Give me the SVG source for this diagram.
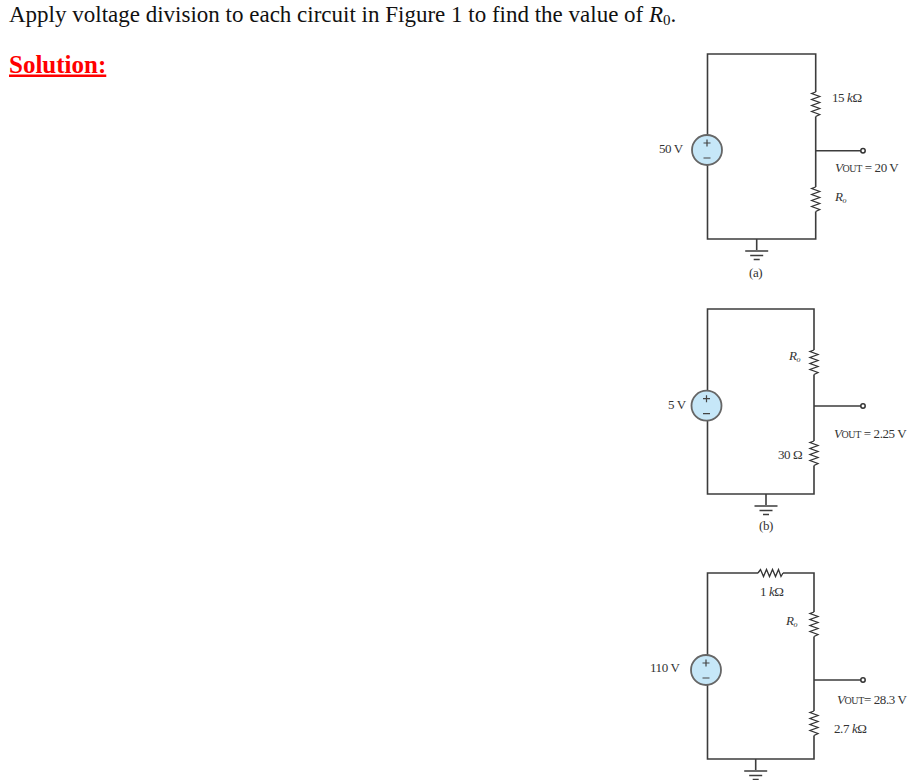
<svg xmlns="http://www.w3.org/2000/svg" width="917" height="780" viewBox="0 0 917 780">
<style>
text{font-family:"Liberation Serif","Times New Roman",serif}
.h{font-size:23px;fill:#111}
.sol{font-size:25px;font-weight:bold;fill:#f00;text-decoration:underline}
.l{font-size:13px;fill:#333;letter-spacing:-.4px}
.s{font-size:10px}
.o{font-size:8px}
.i{font-style:italic}
.w,.wire{fill:none;stroke:#3c3c3c;stroke-width:1.6}
.r{fill:none;stroke:#333;stroke-width:1.3;stroke-linejoin:miter}
.src{fill:#c6e7f8;stroke:#666;stroke-width:1.8}
.sign{fill:none;stroke:#444;stroke-width:1.2}
.term{fill:#fff;stroke:#333;stroke-width:1.5}
</style>
<defs>
<path id="res" class="r" d="M0 0L-4 1.500L4 4.500L-4 7.500L4 10.500L-4 13.500L4 16.500L-4 19.500L4 22.500L0 24.500"/>
<path id="resh" class="r" d="M0 0L2.500 -3.500L5.500 3.500L8.500 -3.500L11.500 3.500L14.500 -3.500L17.500 3.500L20.500 -3.500L23 3.500L25 0"/>
<g id="gnd"><path class="wire" d="M0 0V11M-11.500 12H11.500M-6.500 16.500H6.500M-3 20.500H3"/></g>
<g id="source"><circle class="src" r="15"/><path class="sign" d="M-3.500 -7H3.500M0 -10.500V-3.500M-3.500 8H3.500"/></g>
</defs>
<rect width="917" height="780" fill="#fff"/>
<g id="heading">
<text class="h" x="9" y="22">Apply voltage division to each circuit in Figure 1 to find the value of <tspan class="i">R</tspan><tspan font-size="15" dy="3">0</tspan><tspan dy="-3">.</tspan></text>
<text class="sol" x="9" y="72.500">Solution:</text>
</g>
<g id="connectors">
<path class="wire" d="M707.500 135V54H815.700V92M815.700 116.500V187M815.700 211.500V239H707.500V165M815.700 150.700H861"/>
<path class="wire" d="M707.500 391V309H814V350M814 374.500V441M814 465.500V494H707.500V421M814 406H861"/>
<path class="wire" d="M707.500 655V573H758M783 573H814V612M814 636.500V711M814 735.500V759H707.500V685M814 680H861"/>
</g>
<g id="circuit-a">
<use href="#source" x="707" y="150"/>
<use href="#res" x="815.700" y="92"/>
<use href="#res" x="815.700" y="187"/>
<use href="#gnd" x="756.700" y="239"/>
<circle class="term" cx="863" cy="150.700" r="2.200"/>
<text class="l" x="659" y="153">50 V</text>
<text class="l" x="832" y="102">15 <tspan class="i">k</tspan>Ω</text>
<text class="l" x="835" y="172"><tspan class="i">V</tspan><tspan class="s">OUT</tspan> = 20 V</text>
<text class="l i" x="835" y="201">R<tspan class="o" dy="2">o</tspan></text>
<text class="l" x="749" y="277">(a)</text>
</g>
<g id="circuit-b">
<use href="#source" x="706.500" y="405.700"/>
<use href="#res" x="814" y="350"/>
<use href="#res" x="814" y="441"/>
<use href="#gnd" x="766" y="494"/>
<circle class="term" cx="863" cy="406" r="2.200"/>
<text class="l" x="668" y="409">5 V</text>
<text class="l i" x="789" y="360">R<tspan class="o" dy="2">o</tspan></text>
<text class="l" x="778" y="459">30 Ω</text>
<text class="l" x="834" y="438"><tspan class="i">V</tspan><tspan class="s">OUT</tspan> = 2.25 V</text>
<text class="l" x="759" y="530">(b)</text>
</g>
<g id="circuit-c">
<use href="#source" x="706" y="670"/>
<use href="#resh" x="758" y="573"/>
<use href="#res" x="814" y="612"/>
<use href="#res" x="814" y="711"/>
<use href="#gnd" x="755.700" y="759"/>
<circle class="term" cx="863" cy="680" r="2.200"/>
<text class="l" x="650" y="672">110 V</text>
<text class="l" x="760" y="596">1 <tspan class="i">k</tspan>Ω</text>
<text class="l i" x="786" y="625">R<tspan class="o" dy="2">o</tspan></text>
<text class="l" x="837" y="704"><tspan class="i">V</tspan><tspan class="s">OUT</tspan>= 28.3 V</text>
<text class="l" x="834" y="733">2.7 <tspan class="i">k</tspan>Ω</text>
</g>
</svg>
